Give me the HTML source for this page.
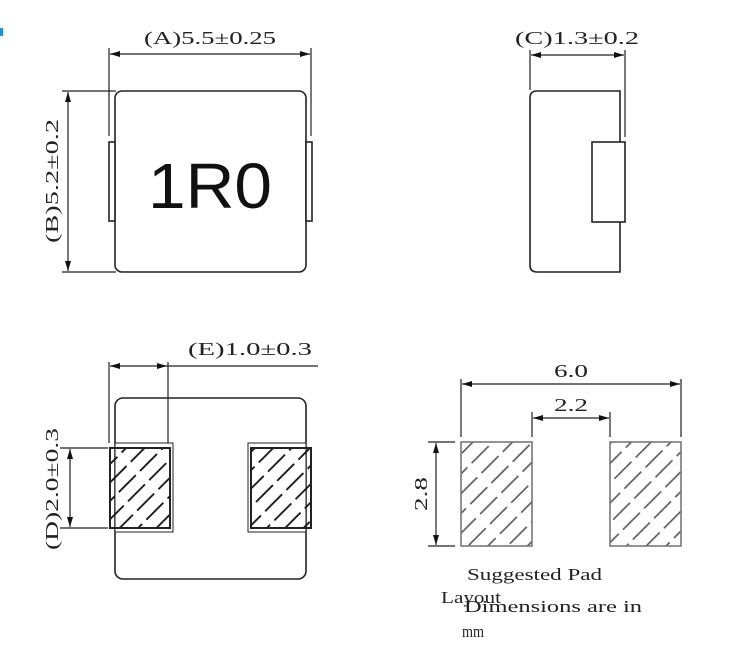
<!DOCTYPE html>
<html><head><meta charset="utf-8"><style>
html,body{margin:0;padding:0;background:#fff;width:752px;height:658px;overflow:hidden}
svg{display:block}
text{font-family:"Liberation Serif","Noto Serif CJK SC",serif;fill:#222}
</style></head><body>
<svg width="752" height="658" viewBox="0 0 752 658" xmlns="http://www.w3.org/2000/svg">
<defs>
<marker id="a" viewBox="0 0 10 6" refX="10" refY="3" markerWidth="10" markerHeight="6" orient="auto-start-reverse" markerUnits="userSpaceOnUse"><path d="M0,0 L10,3 L0,6 z" fill="#111"/></marker>
<pattern id="h" width="13" height="30" patternUnits="userSpaceOnUse" patternTransform="rotate(45)"><line x1="3" y1="0" x2="3" y2="30" stroke="#111" stroke-width="1.8" stroke-dasharray="24 6"/></pattern>
<pattern id="hg" width="14" height="30" patternUnits="userSpaceOnUse" patternTransform="rotate(45)"><line x1="3" y1="0" x2="3" y2="30" stroke="#555" stroke-width="1.6" stroke-dasharray="24 6"/></pattern>
</defs>
<rect x="0" y="28" width="3" height="8" fill="#1e90d8"/>
<g stroke="#222" fill="none" stroke-width="1.6">
<rect x="115" y="91" width="191" height="181" rx="7"/>
<rect x="109" y="142" width="6" height="79" fill="#fff"/>
<rect x="306" y="142" width="6" height="79" fill="#fff"/>
<line x1="109" y1="48" x2="109" y2="136" stroke-width="1.2"/>
<line x1="311" y1="48" x2="311" y2="136" stroke-width="1.2"/>
<line x1="110" y1="54" x2="310" y2="54" stroke-width="1.2" marker-start="url(#a)" marker-end="url(#a)"/>
<line x1="62" y1="91" x2="116" y2="91" stroke-width="1.2"/>
<line x1="62" y1="272" x2="116" y2="272" stroke-width="1.2"/>
<line x1="68" y1="92" x2="68" y2="271" stroke-width="1.2" marker-start="url(#a)" marker-end="url(#a)"/>
<path d="M537,91 L620,91 L620,272 L537,272 Q530,272 530,265 L530,98 Q530,91 537,91 Z"/>
<rect x="592" y="142" width="33" height="80" fill="#fff"/>
<line x1="530" y1="50" x2="530" y2="90" stroke-width="1.2"/>
<line x1="625" y1="50" x2="625" y2="137" stroke-width="1.2"/>
<line x1="531" y1="55" x2="624" y2="55" stroke-width="1.2" marker-start="url(#a)" marker-end="url(#a)"/>
<rect x="115" y="398" width="191" height="181" rx="8"/>
<rect x="115" y="443" width="58" height="89" fill="#fff" stroke-width="1"/>
<rect x="248" y="443" width="58" height="89" fill="#fff" stroke-width="1"/>
<rect x="110" y="448" width="60" height="80" fill="url(#h)" stroke-width="2"/>
<rect x="251" y="448" width="60" height="80" fill="url(#h)" stroke-width="2"/>
<line x1="109" y1="362" x2="109" y2="443" stroke-width="1.2"/>
<line x1="168" y1="362" x2="168" y2="443" stroke-width="1.2"/>
<line x1="110" y1="366" x2="167" y2="366" stroke-width="1.2" marker-start="url(#a)" marker-end="url(#a)"/>
<line x1="167" y1="366" x2="318" y2="366" stroke-width="1.2"/>
<line x1="60" y1="448" x2="108" y2="448" stroke-width="1.2"/>
<line x1="60" y1="528" x2="108" y2="528" stroke-width="1.2"/>
<line x1="70" y1="449" x2="70" y2="527" stroke-width="1.2" marker-start="url(#a)" marker-end="url(#a)"/>
<rect x="461" y="442" width="71" height="104" stroke="#777" fill="url(#hg)"/>
<rect x="610" y="442" width="71" height="104" stroke="#777" fill="url(#hg)"/>
<line x1="461" y1="379" x2="461" y2="437" stroke-width="1.2"/>
<line x1="681" y1="379" x2="681" y2="437" stroke-width="1.2"/>
<line x1="462" y1="384" x2="680" y2="384" stroke-width="1.2" marker-start="url(#a)" marker-end="url(#a)"/>
<line x1="532" y1="412" x2="532" y2="437" stroke-width="1.2"/>
<line x1="610" y1="412" x2="610" y2="437" stroke-width="1.2"/>
<line x1="533" y1="418" x2="609" y2="418" stroke-width="1.2" marker-start="url(#a)" marker-end="url(#a)"/>
<line x1="428" y1="442" x2="455" y2="442" stroke-width="1.2"/>
<line x1="428" y1="546" x2="455" y2="546" stroke-width="1.2"/>
<line x1="436" y1="443" x2="436" y2="545" stroke-width="1.2" marker-start="url(#a)" marker-end="url(#a)"/>
</g>
<text x="210" y="208" font-size="64" text-anchor="middle" textLength="124" lengthAdjust="spacingAndGlyphs" style="font-family:'Liberation Sans',sans-serif;fill:#111">1R0</text>
<g font-size="18">
<text x="210" y="44" text-anchor="middle" textLength="132" lengthAdjust="spacingAndGlyphs">(A)5.5±0.25</text>
<text x="577" y="44" text-anchor="middle" textLength="124" lengthAdjust="spacingAndGlyphs">(C)1.3±0.2</text>
<text x="250" y="355" text-anchor="middle" textLength="124" lengthAdjust="spacingAndGlyphs">(E)1.0±0.3</text>
<text transform="translate(58,181) rotate(-90)" text-anchor="middle" textLength="124" lengthAdjust="spacingAndGlyphs">(B)5.2±0.2</text>
<text transform="translate(58,489) rotate(-90)" text-anchor="middle" textLength="122" lengthAdjust="spacingAndGlyphs">(D)2.0±0.3</text>
<text x="571" y="377" text-anchor="middle" textLength="34" lengthAdjust="spacingAndGlyphs">6.0</text>
<text x="571" y="411" text-anchor="middle" textLength="34" lengthAdjust="spacingAndGlyphs">2.2</text>
<text transform="translate(427,494) rotate(-90)" text-anchor="middle" textLength="34" lengthAdjust="spacingAndGlyphs">2.8</text>
</g>
<g font-size="17">
<text x="467" y="580" textLength="135" lengthAdjust="spacingAndGlyphs">Suggested Pad</text>
<text x="441" y="603" textLength="60" lengthAdjust="spacingAndGlyphs">Layout</text>
<text x="464" y="612" textLength="178" lengthAdjust="spacingAndGlyphs">Dimensions are in</text>
<text x="462" y="637" textLength="22" lengthAdjust="spacingAndGlyphs">mm</text>
</g>
</svg>
</body></html>
